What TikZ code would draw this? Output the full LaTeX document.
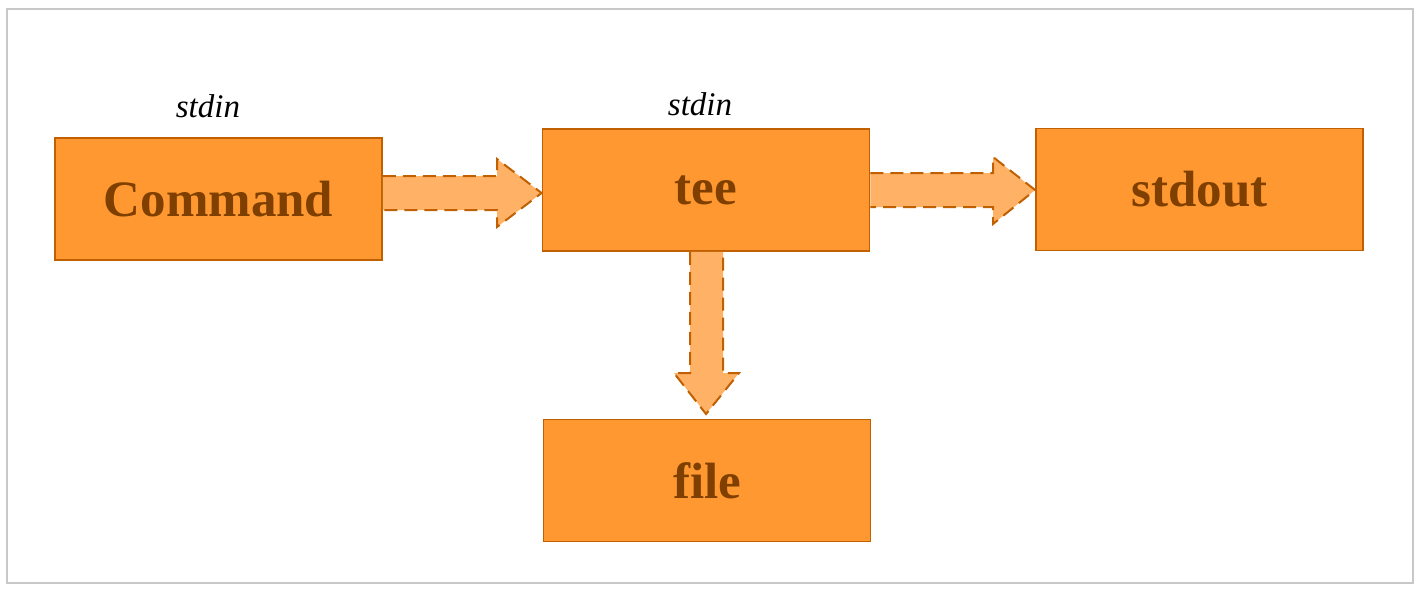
\documentclass[tikz,border=0pt]{standalone}
\usepackage{fontspec}
\setmainfont{Liberation Serif}
\usetikzlibrary{calc}
\definecolor{boxfill}{HTML}{FF9830}
\definecolor{boxline}{HTML}{C06000}
\definecolor{boxtext}{HTML}{7F3F00}
\definecolor{arrfill}{HTML}{FFB266}
\definecolor{frame}{HTML}{C8C8C8}
\tikzset{
  box/.style={draw=boxline, fill=boxfill, line width=1.8pt, minimum width=327pt, minimum height=122pt, inner sep=0pt, font=\fontsize{51}{51}\selectfont\bfseries, text=boxtext},
  lab/.style={font=\itshape\fontsize{33}{33}\selectfont, inner sep=0pt},
  fat/.style={draw=boxline, fill=arrfill, line width=2pt, dash pattern=on 13pt off 7pt, line join=miter}
}
\begin{document}
\begin{tikzpicture}[x=1pt,y=-1pt]
\useasboundingbox (0,0) rectangle (1418,590);
\fill[white] (0,0) rectangle (1418,590);
\draw[frame, line width=2pt] (7,9) rectangle (1413,583);
\node[box] (cmd) at (218.5,199) {Command};
\node[box] (tee) at (706,190) {tee};
\node[box] (out) at (1199.5,189.5) {stdout};
\node[box] (file) at (707,480.5) {file};
\node[lab] (l1) at (208,106) {stdin};
\node[lab] (l2) at (700,104) {stdin};
% arrow Command -> tee
\draw[fat] (cmd.east |- 0,176) -- (497,176) -- (497,159) -- (tee.west |- 0,193) -- (497,227) -- (497,210) -- (cmd.east |- 0,210);
% arrow tee -> stdout
\draw[fat] (tee.east |- 0,173) -- (993,173) -- (993,157) -- (out.west |- 0,190) -- (993,224) -- (993,207) -- (tee.east |- 0,207);
% arrow tee -> file
\draw[fat] (690,0 |- tee.south) -- (690,373) -- (674,373) -- (706,414) -- (739,373) -- (723,373) -- (723,0 |- tee.south);
\end{tikzpicture}
\end{document}
